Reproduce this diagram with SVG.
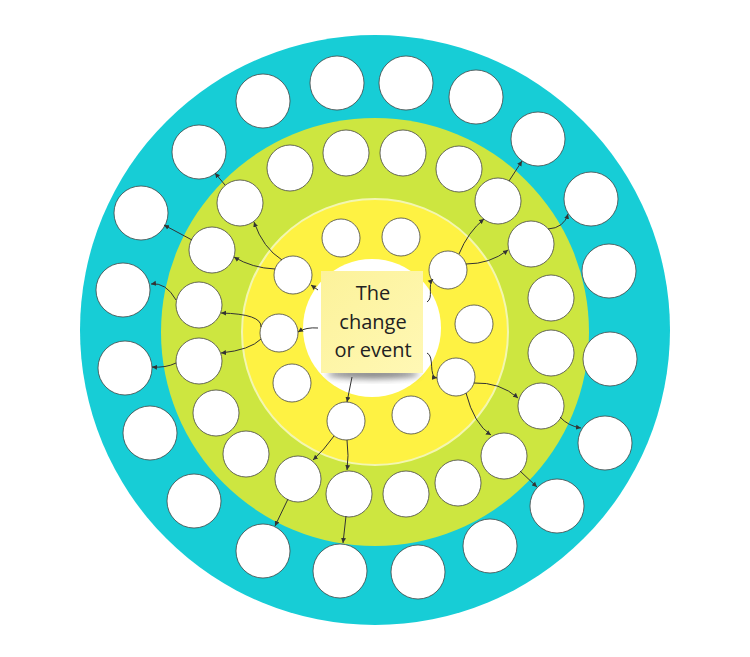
<svg xmlns="http://www.w3.org/2000/svg" width="750" height="657" viewBox="0 0 750 657">
<style>
.n{fill:#fff;stroke:#444;stroke-width:0.8}
.c{fill:none;stroke:#333;stroke-width:1;marker-end:url(#a)}
.t{font-family:"Open Sans","Noto Sans",sans-serif;font-size:20px;fill:#222;text-anchor:middle}
</style>
<defs>
<marker id="a" markerWidth="6" markerHeight="6" refX="5" refY="3" orient="auto" markerUnits="userSpaceOnUse"><path d="M0,0.5 L5,3 L0,5.5z" fill="#333"/></marker>
<linearGradient id="g" x1="0" y1="0" x2="1" y2="1"><stop offset="0" stop-color="#fcf29a"/><stop offset="1" stop-color="#fff8b5"/></linearGradient>
<filter id="b" x="-20%" y="-50%" width="140%" height="200%"><feGaussianBlur stdDeviation="3"/></filter>
</defs>
<g id="bands">
<circle cx="375" cy="330" r="295" fill="#17cdd6"/>
<circle cx="375" cy="332" r="214" fill="#cde640"/>
<circle cx="375" cy="332" r="133" fill="#fef243" stroke="#f3f6b0" stroke-width="2"/>
<circle cx="372" cy="328" r="69" fill="#fff"/>
</g>
<g id="outer">
<circle class="n" cx="263" cy="101" r="27"/><circle class="n" cx="337" cy="83" r="27"/><circle class="n" cx="406" cy="83" r="27"/><circle class="n" cx="476" cy="97" r="27"/><circle class="n" cx="538" cy="139" r="27"/><circle class="n" cx="591" cy="199" r="27"/><circle class="n" cx="609" cy="271" r="27"/><circle class="n" cx="610" cy="359" r="27"/><circle class="n" cx="605" cy="443" r="27"/><circle class="n" cx="557" cy="506" r="27"/><circle class="n" cx="490" cy="546" r="27"/><circle class="n" cx="418" cy="572" r="27"/><circle class="n" cx="340" cy="571" r="27"/><circle class="n" cx="263" cy="551" r="27"/><circle class="n" cx="194" cy="501" r="27"/><circle class="n" cx="150" cy="433" r="27"/><circle class="n" cx="125" cy="368" r="27"/><circle class="n" cx="123" cy="290" r="27"/><circle class="n" cx="141" cy="213" r="27"/><circle class="n" cx="199" cy="152" r="27"/>
</g>
<g id="middle">
<circle class="n" cx="290" cy="168" r="23"/><circle class="n" cx="346" cy="153" r="23"/><circle class="n" cx="403" cy="153" r="23"/><circle class="n" cx="459" cy="169" r="23"/><circle class="n" cx="498" cy="201" r="23"/><circle class="n" cx="531" cy="244" r="23"/><circle class="n" cx="551" cy="298" r="23"/><circle class="n" cx="551" cy="353" r="23"/><circle class="n" cx="541" cy="406" r="23"/><circle class="n" cx="504" cy="456" r="23"/><circle class="n" cx="458" cy="483" r="23"/><circle class="n" cx="406" cy="494" r="23"/><circle class="n" cx="349" cy="494" r="23"/><circle class="n" cx="298" cy="479" r="23"/><circle class="n" cx="246" cy="454" r="23"/><circle class="n" cx="216" cy="413" r="23"/><circle class="n" cx="199" cy="361" r="23"/><circle class="n" cx="199" cy="305" r="23"/><circle class="n" cx="212" cy="250" r="23"/><circle class="n" cx="240" cy="203" r="23"/>
</g>
<g id="inner">
<circle class="n" cx="341" cy="238" r="19"/><circle class="n" cx="401" cy="237" r="19"/><circle class="n" cx="293" cy="275" r="19"/><circle class="n" cx="448" cy="270" r="19"/><circle class="n" cx="279" cy="333" r="19"/><circle class="n" cx="474" cy="324" r="19"/><circle class="n" cx="292" cy="383" r="19"/><circle class="n" cx="456" cy="377" r="19"/><circle class="n" cx="411" cy="415" r="19"/><circle class="n" cx="346" cy="421" r="19"/>
</g>
<g id="note">
<ellipse cx="373" cy="374" rx="46" ry="5" fill="#555" opacity="0.7" filter="url(#b)"/>
<rect x="321" y="271" width="102" height="102" fill="url(#g)"/>
<text class="t" x="373" y="300">The</text>
<text class="t" x="373" y="329">change</text>
<text class="t" x="373" y="357">or event</text>
</g>
<g id="connectors">
<path class="c" d="M318,290 L311,285"/>
<path class="c" d="M318,328 Q306,327 298,332"/>
<path class="c" d="M427,302 C434,298 427,285 433,279"/>
<path class="c" d="M427,353 C435,356 428,377 437,378"/>
<path class="c" d="M352,377 L347,402"/>
<path class="c" d="M282,260 Q263,248 254,222"/>
<path class="c" d="M275,269 Q252,268 234,257"/>
<path class="c" d="M261,327 Q262,314 221,313"/>
<path class="c" d="M261,339 Q250,350 221,353"/>
<path class="c" d="M459,254 Q468,232 484,219"/>
<path class="c" d="M466,264 Q490,264 508,250"/>
<path class="c" d="M474,383 Q500,382 518,398"/>
<path class="c" d="M466,393 Q474,424 491,435"/>
<path class="c" d="M334,436 Q324,450 313,460"/>
<path class="c" d="M347,440 Q349,456 347,470"/>
<path class="c" d="M225,185 L215,173"/>
<path class="c" d="M192,240 L164,225"/>
<path class="c" d="M176,300 Q166,282 151,284"/>
<path class="c" d="M176,363 Q166,368 152,367"/>
<path class="c" d="M509,181 L522,161"/>
<path class="c" d="M548,229 Q564,228 568,214"/>
<path class="c" d="M560,417 Q568,426 581,428"/>
<path class="c" d="M520,471 L537,487"/>
<path class="c" d="M288,499 L275,526"/>
<path class="c" d="M346,516 L343,543"/>
</g>
</svg>
